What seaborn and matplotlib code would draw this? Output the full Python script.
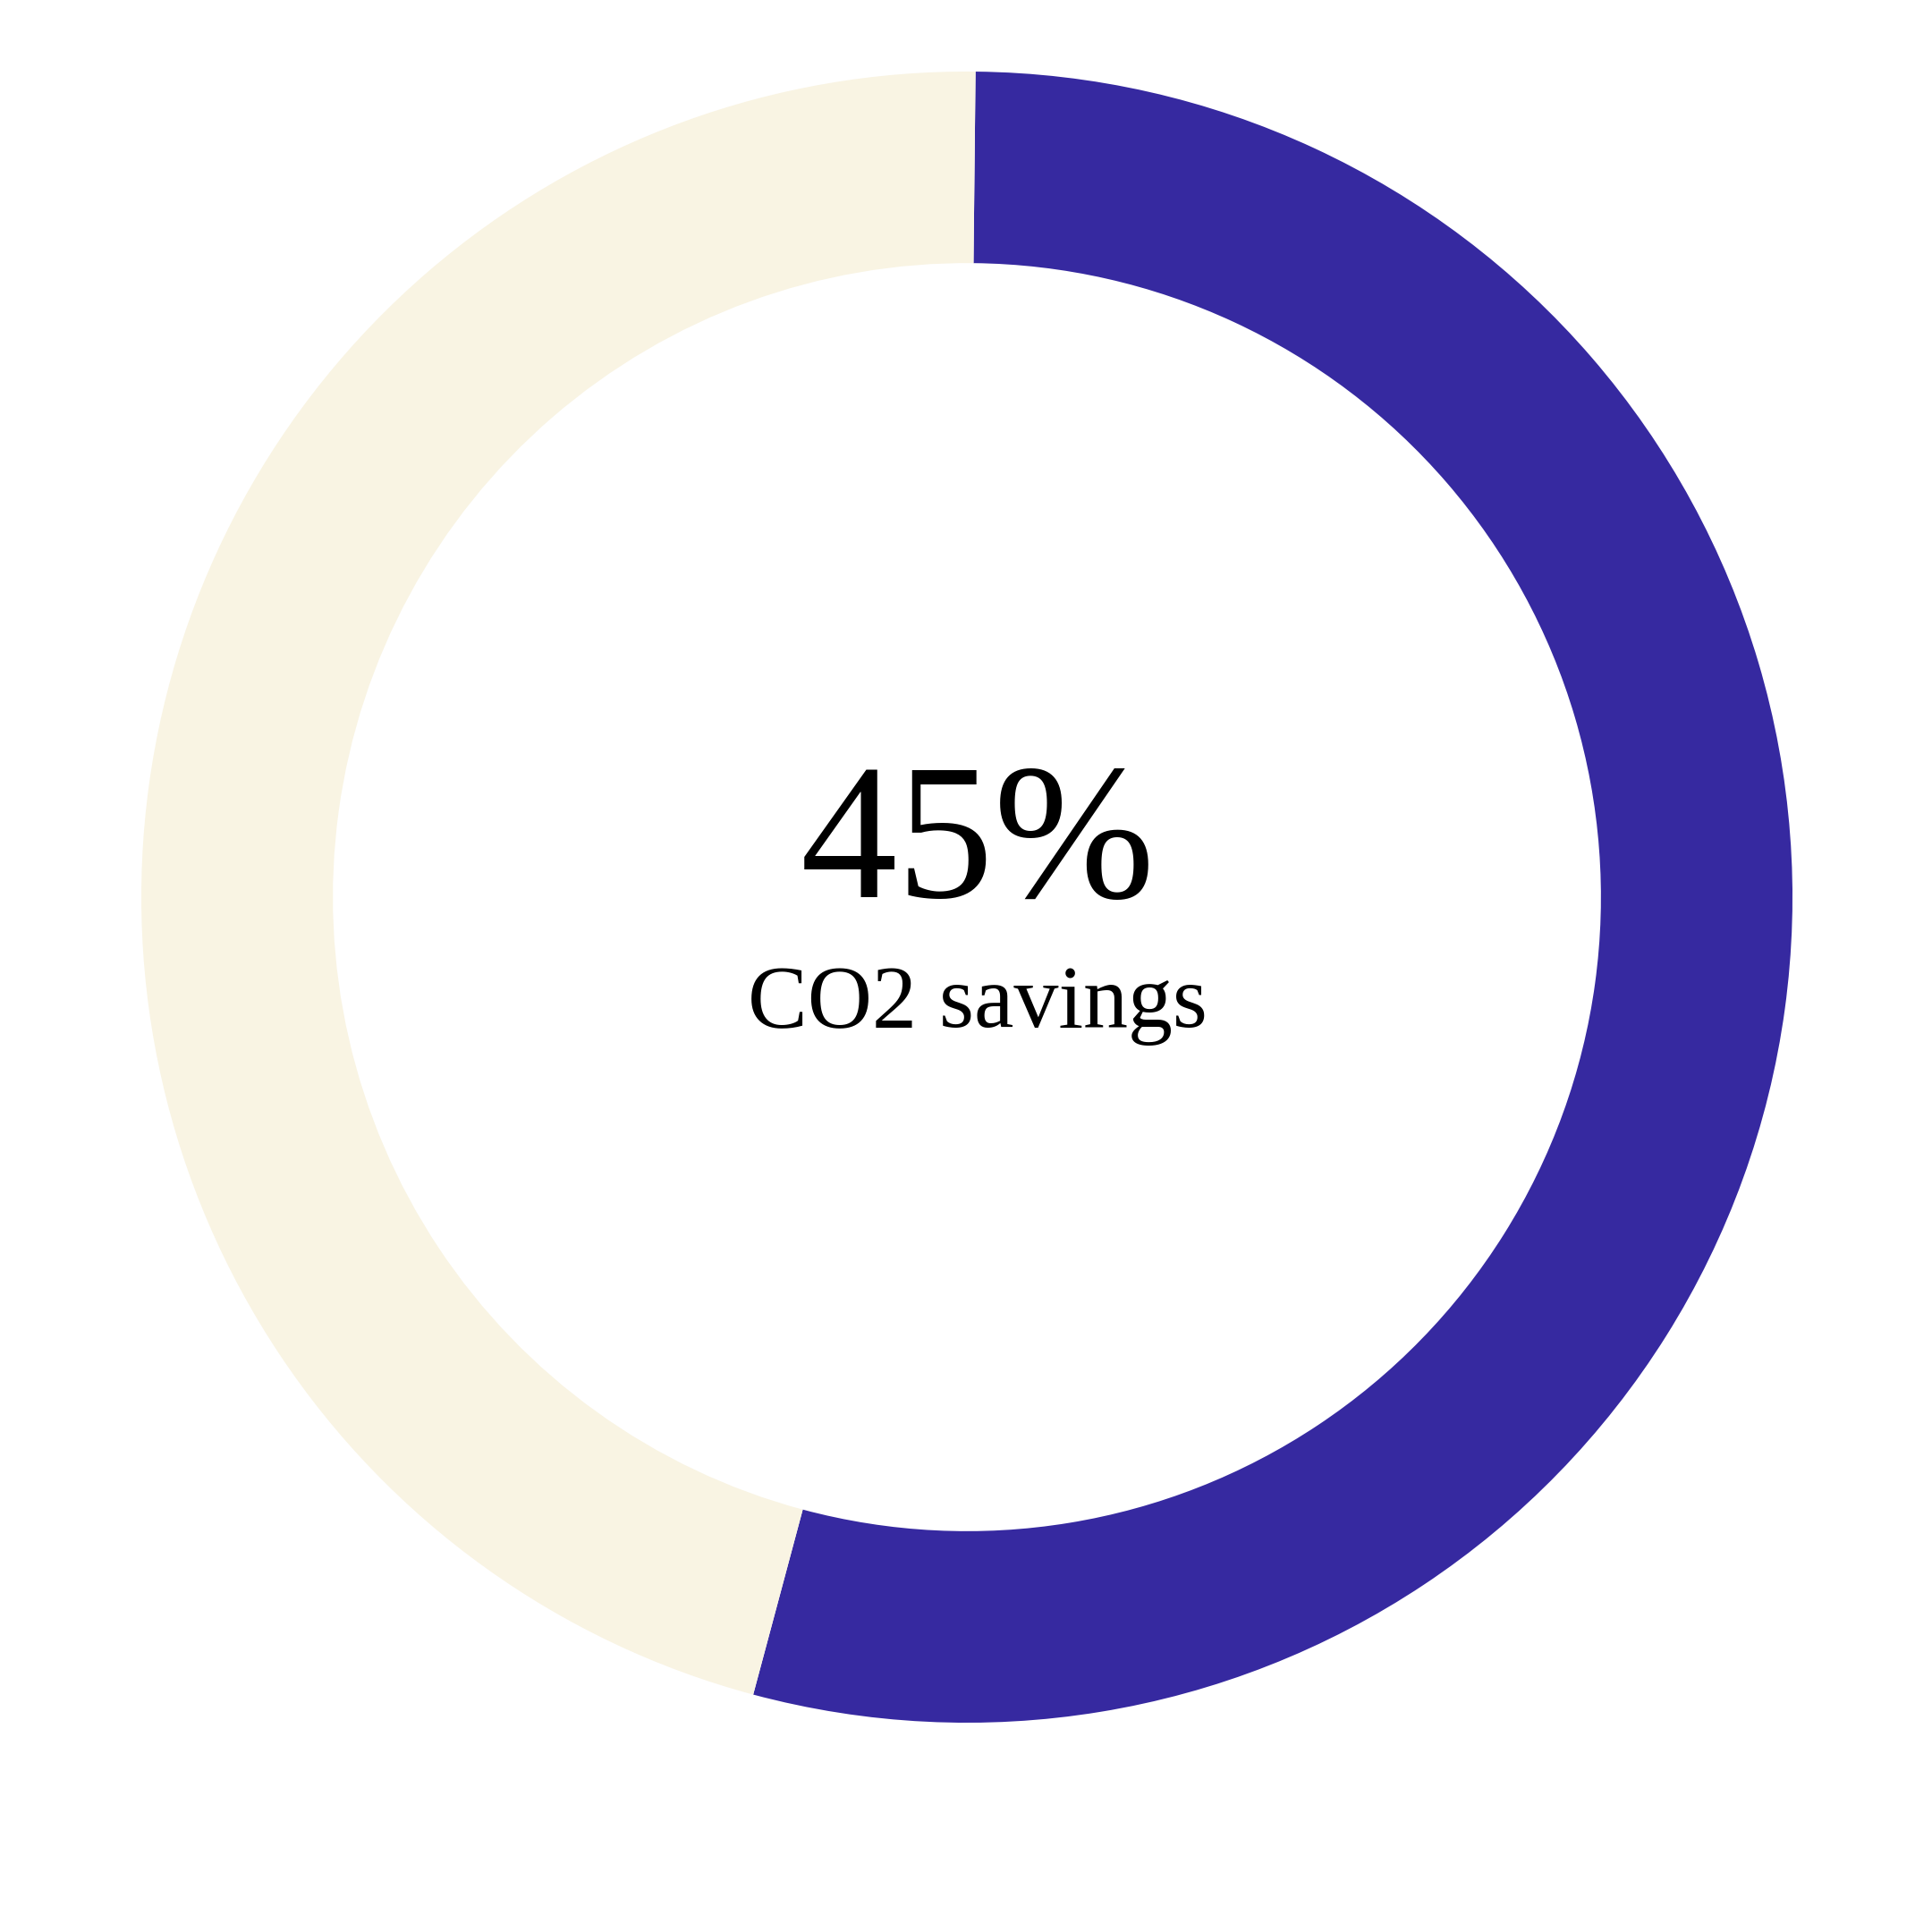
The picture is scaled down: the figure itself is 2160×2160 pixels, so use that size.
import matplotlib
matplotlib.use("Agg")
import matplotlib.pyplot as plt
import seaborn as sns

# Data
labels = ["CO2 savings", "Remaining"]
values = [54, 46]
colors = ["#3629A0", "#F9F4E3"]
big_text = "45%"
sub_text = "CO2 savings"

sns.set_theme(style="white")
plt.rcParams["font.family"] = ["Liberation Serif", "DejaVu Serif"]

fig = plt.figure(figsize=(10.8, 10.8), dpi=200)
fig.patch.set_facecolor("white")

cx, cy = 1081 / 2160, 1 - 1003 / 2160
r = 923 / 2160
ax = fig.add_axes([cx - r, cy - r, 2 * r, 2 * r])
ax.set_facecolor("white")

ax.pie(values, colors=colors, startangle=89.4, counterclock=False,
       radius=1.0, wedgeprops=dict(width=0.232, edgecolor="none", linewidth=0))
ax.set_xlim(-1, 1)
ax.set_ylim(-1, 1)
ax.set_aspect("equal")
ax.axis("off")

ax.text(0.013, 0.0, big_text, ha="center", va="baseline", fontsize=78, color="black")
ax.text(0.013, -0.157, sub_text, ha="center", va="baseline", fontsize=36, color="black")

fig.savefig("out.png", dpi=200, facecolor="white")
